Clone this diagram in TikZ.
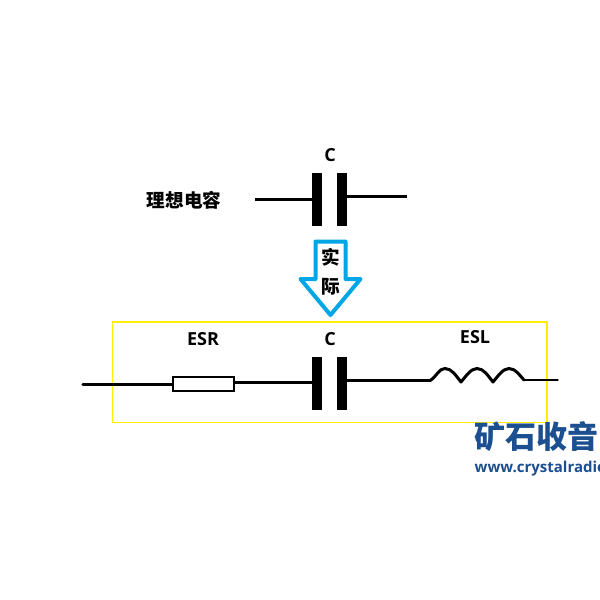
\documentclass[tikz,border=0pt]{standalone}
\usepackage{fontspec}
\setmainfont{Open Sans}
\newfontfamily\cjk{Noto Sans CJK SC}
\definecolor{arrowblue}{HTML}{00A6E6}
\definecolor{markblue}{HTML}{1B4F8F}
\definecolor{frameyellow}{HTML}{FFEE00}
\tikzset{
  wire/.style={draw=black,line width=3.2pt,line cap=round},
  plate/.style={fill=black,draw=none,minimum width=10.3pt,minimum height=52.5pt,inner sep=0pt,outer sep=0pt},
  lab/.style={font=\bfseries\fontsize{18pt}{20pt}\selectfont,inner sep=0pt,text=black},
  cjklab/.style={font=\cjk\bfseries\fontsize{18.6pt}{20pt}\selectfont,inner sep=0pt,text=black}
}
\begin{document}
\begin{tikzpicture}[x=1pt,y=-1pt]
\useasboundingbox (0,0) rectangle (600,600);
\clip (0,0) rectangle (600,600);
\fill[white] (0,0) rectangle (600,600);
% yellow frame
\draw[draw=frameyellow,line width=1.25pt] (112.7,322) rectangle (547,422.7);
% top capacitor
\node[plate] (p1) at (317.3,199.5) {};
\node[plate] (p2) at (342.3,199.5) {};
\coordinate (a1) at (255,199.3);
\coordinate (a2) at (406.5,196.7);
\draw[wire,line cap=butt] (a1) -- (a1-|p1.west);
\draw[wire,line cap=butt] (a2-|p2.east) -- (a2);
\node[lab] (c1) at (330,155) {C};
\node[cjklab] (ideal) at (184,200) {理想电容};
% arrow
\draw[draw=arrowblue,line width=4pt,line join=round,fill=white]
  (315.5,241.5) -- (345.5,241.5) -- (345.5,279) -- (360.5,279) -- (330.5,315) -- (300.5,279) -- (315.5,279) -- cycle;
\node[cjklab] (s1) at (330.5,257) {实};
\node[cjklab] (s2) at (330.5,287) {际};
% bottom chain
\node[plate] (p3) at (317,383.3) {};
\node[plate] (p4) at (342,383.3) {};
\node[draw=black,line width=2.6pt,fill=white,minimum width=61pt,minimum height=14pt,inner sep=0pt] (r) at (203.5,384) {};
\coordinate (b0) at (83,384.7);
\coordinate (b1) at (172,384.7);
\coordinate (b2) at (235,382.3);
\coordinate (b3) at (430,380.7);
\coordinate (b4) at (524,380);
\coordinate (b5) at (557.5,380);
\draw[wire] (b0) -- (b1);
\draw[wire,line cap=butt] (b2) -- (b2-|p3.west);
\draw[wire,line cap=butt] (b3-|p4.east) -- (b3);
\draw[wire,line width=2.8pt] (b4) -- (b5);
\draw[draw=black,line width=3pt,line join=round,line cap=round] (b3)
  .. controls (437,376) and (439,368.5) .. (445,368.5) .. controls (452,368.5) and (456,376) .. (461,382)
  .. controls (466,376) and (471,368.5) .. (477,368.5) .. controls (484,368.5) and (488,376) .. (493,382)
  .. controls (498,376) and (503,368.5) .. (509,368.5) .. controls (516,368.5) and (520,376) .. (b4);
\node[lab] (esr) at (203,339) {ESR};
\node[lab] (c2) at (330,339) {C};
\node[lab] (esl) at (475,337) {ESL};
% watermark
\fill[white] (473,423) rectangle (600,480);
\node[anchor=west,inner sep=0pt,text=markblue,font=\cjk\bfseries\fontsize{31pt}{32pt}\selectfont] (m1) at (474,437) {矿石收音};
\node[anchor=west,inner sep=0pt,text=markblue,font=\bfseries\fontsize{15pt}{16pt}\selectfont] (m2) at (474.5,468.5) {www.crystalradio};
\end{tikzpicture}
\end{document}
